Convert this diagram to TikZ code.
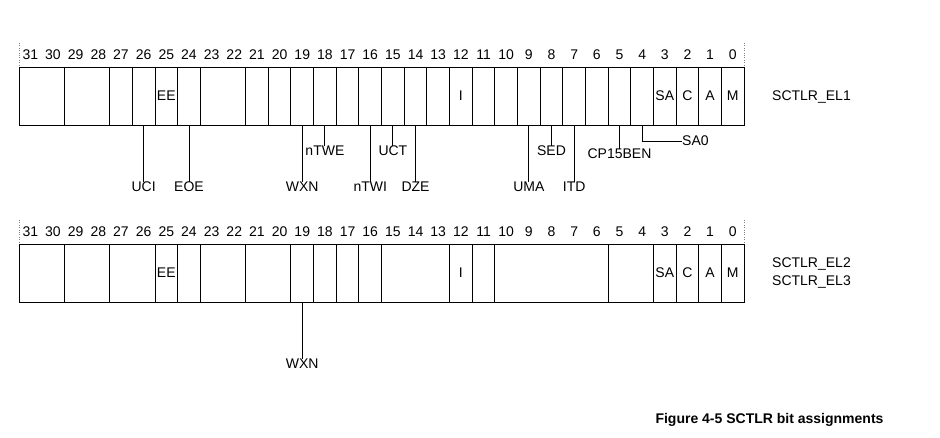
\documentclass[tikz,border=0pt]{standalone}
\usepackage{fontspec}
\setmainfont{Liberation Sans}
\usetikzlibrary{positioning}

\begin{document}
\begin{tikzpicture}[
    x=1pt, y=-1pt,
    % Define the style for the fields
    field/.style={draw=black, line width=0.9pt, minimum height=58pt, inner sep=0pt, font=\fontsize{14}{16}\selectfont},
    bitno/.style={font=\fontsize{14}{16}\selectfont, inner sep=0pt},
    lbl/.style={font=\fontsize{14}{16}\selectfont, inner sep=0pt, anchor=north},
    lead/.style={line width=0.9pt}
]
\useasboundingbox (0,0) rectangle (940,438);
\def\cw{22.66}

% Bit numbers and edge marks
\foreach \y in {55,232} {
    \foreach \b in {0,...,31} {
        \node[bitno] at ({19+(31-\b+0.5)*\cw},\y) {\b};
    }
    \draw[gray, dotted] (19,\y-12) -- (19,\y+12);
    \draw[gray, dotted] (744,\y-12) -- (744,\y+12);
}

% SCTLR_EL1 fields
\foreach \hi/\lo/\t in {31/30/,29/28/,27/27/,26/26/,25/25/EE,24/24/,23/22/,21/21/,20/20/,
    19/19/,18/18/,17/17/,16/16/,15/15/,14/14/,13/13/,12/12/I,11/11/,10/10/,9/9/,8/8/,
    7/7/,6/6/,5/5/,4/4/,3/3/SA,2/2/C,1/1/A,0/0/M} {
    \pgfmathsetmacro\w{(\hi-\lo+1)*\cw}
    \node[field, minimum width=\w pt] (a\lo)
        at ({19+(31-\hi)*\cw+\w/2},96) {\t};
}
\node[lbl, anchor=west] (el1) at (772,97) {SCTLR\_EL1};

% SCTLR_EL2 / SCTLR_EL3 fields
\foreach \hi/\lo/\t in {31/30/,29/28/,27/26/,25/25/EE,24/24/,23/22/,21/20/,19/19/,18/18/,
    17/17/,16/16/,15/13/,12/12/I,11/11/,10/6/,5/4/,3/3/SA,2/2/C,1/1/A,0/0/M} {
    \pgfmathsetmacro\w{(\hi-\lo+1)*\cw}
    \node[field, minimum width=\w pt] (b\lo)
        at ({19+(31-\hi)*\cw+\w/2},273) {\t};
}
\node[lbl, anchor=west, align=left, font=\fontsize{14}{18}\selectfont] (el23) at (772,273) {SCTLR\_EL2\\SCTLR\_EL3};

% Leaders, long
\foreach \b/\t in {26/UCI,24/EOE,19/WXN,16/nTWI,14/DZE,9/UMA,7/ITD} {
    \node[lbl] (l\t) at (a\b.south |- 0,182) {\t};
    \draw[lead] (a\b.south) -- (l\t.north);
}
% Leaders, short
\foreach \b/\t in {18/nTWE,15/UCT,8/SED} {
    \node[lbl] (l\t) at (a\b.south |- 0,146) {\t};
    \draw[lead] (a\b.south) -- (l\t.north);
}
\node[lbl] (lCP15BEN) at (a5.south |- 0,149) {CP15BEN};
\draw[lead] (a5.south) -- (lCP15BEN.north);
\node[lbl, anchor=west] (lSA0) at (682,141) {SA0};
\draw[lead] (a4.south) |- (lSA0.west);

\node[lbl] (lWXN2) at (b19.south |- 0,359) {WXN};
\draw[lead] (b19.south) -- (lWXN2.north);

% Caption
\node[font=\bfseries\fontsize{14}{16}\selectfont, anchor=east] (cap) at (887,420) {Figure 4-5 SCTLR bit assignments};
\end{tikzpicture}
\end{document}
